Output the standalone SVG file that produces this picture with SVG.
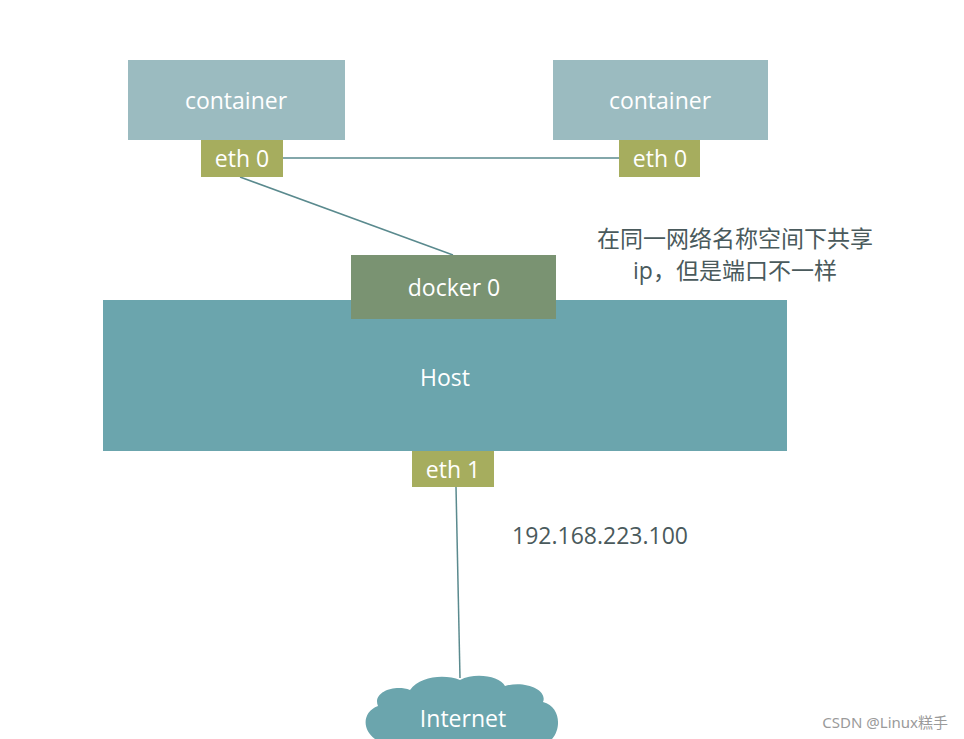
<svg xmlns="http://www.w3.org/2000/svg" width="964" height="739" viewBox="0 0 964 739">
<style>
.lbl{font-family:"Open Sans","Noto Sans",sans-serif;fill:#fff;font-size:23px;text-anchor:middle}
.cont{fill:#9bbbc0}
.eth{fill:#a6ad5e}
.note{font-family:"Open Sans","Noto Sans CJK SC",sans-serif;fill:#4a5a5c;font-size:23px;text-anchor:middle}
.ln{stroke:#5a8a8e;stroke-width:1.5;fill:none}
</style>
<rect width="964" height="739" fill="#fff"/>
<g id="connectors">
<line class="ln" x1="283" y1="158" x2="619" y2="158"/>
<line class="ln" x1="240" y1="177" x2="453" y2="255"/>
<line class="ln" x1="456" y1="487" x2="460" y2="678"/>
</g>
<g id="container1"><rect class="cont" x="128" y="60" width="217" height="80"/><text class="lbl" x="236" y="109">container</text></g>
<g id="container2"><rect class="cont" x="553" y="60" width="215" height="80"/><text class="lbl" x="660" y="109">container</text></g>
<g id="eth0a"><rect class="eth" x="201" y="140" width="82" height="37"/><text class="lbl" x="242" y="167">eth 0</text></g>
<g id="eth0b"><rect class="eth" x="619" y="140" width="81" height="37"/><text class="lbl" x="660" y="167">eth 0</text></g>
<g id="host"><rect fill="#6ba5ad" x="103" y="300" width="684" height="151"/><text class="lbl" x="445" y="386">Host</text></g>
<g id="docker0"><rect fill="#7a9372" x="351" y="255" width="205" height="64"/><text class="lbl" x="454" y="296">docker 0</text></g>
<g id="eth1"><rect class="eth" x="412" y="451" width="82" height="36"/><text class="lbl" x="453" y="478">eth 1</text></g>
<g id="internet">
<path fill="#6ba5ad" d="M375,739 C362,730 362,712 378,706 C372,692 395,684 410,690 C420,676 445,674 460,680 C475,672 500,676 505,686 C525,680 548,690 543,702 C560,706 562,728 552,739 Z"/>
<text class="lbl" x="463" y="727">Internet</text>
</g>
<g id="notes">
<text class="note" x="735" y="247">在同一网络名称空间下共享</text>
<text class="note" x="735" y="279">ip，但是端口不一样</text>
<text class="note" x="600" y="544">192.168.223.100</text>
</g>
<text x="948" y="728" font-family="'Noto Sans','Noto Sans CJK SC',sans-serif" font-size="15" fill="#9a9a9a" text-anchor="end">CSDN @Linux糕手</text>
</svg>
